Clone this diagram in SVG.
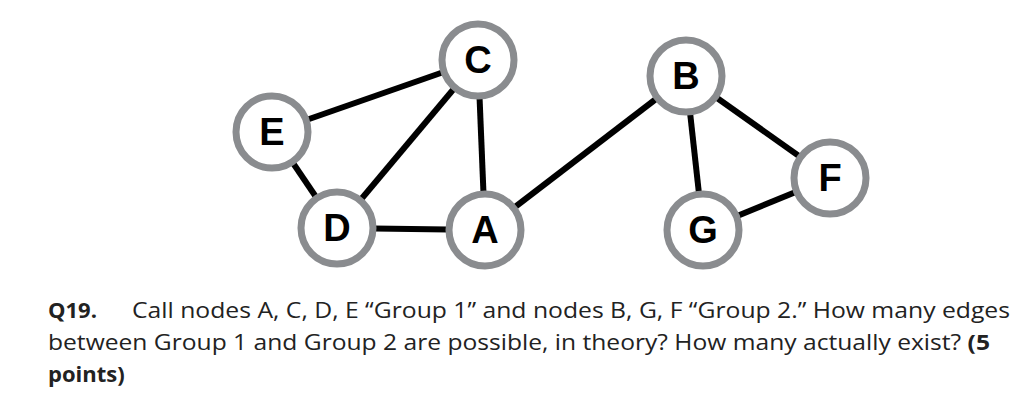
<svg xmlns="http://www.w3.org/2000/svg" width="1024" height="408" viewBox="0 0 1024 408">
<style>
.e{stroke:#000;stroke-width:6}
.n circle{fill:#fff;stroke:#8a8c8f;stroke-width:7}
.n text{font-family:"Liberation Sans",Arial,sans-serif;font-weight:bold;font-size:38px;text-anchor:middle}
.q{font-family:"Open Sans","Liberation Sans",sans-serif;font-size:22px;fill:#222}
</style>
<rect width="1024" height="408" fill="#fff"/>
<g id="edges">
<line class="e" x1="272" y1="132" x2="478" y2="60"/>
<line class="e" x1="272" y1="132" x2="337" y2="228"/>
<line class="e" x1="337" y1="228" x2="478" y2="60"/>
<line class="e" x1="478" y1="60" x2="485" y2="230"/>
<line class="e" x1="337" y1="228" x2="485" y2="230"/>
<line class="e" x1="485" y1="230" x2="686" y2="76"/>
<line class="e" x1="686" y1="76" x2="703" y2="230"/>
<line class="e" x1="686" y1="76" x2="830" y2="178"/>
<line class="e" x1="703" y1="230" x2="830" y2="178"/>
</g>
<g id="C" class="n"><circle cx="478" cy="60" r="36"/><text x="478" y="73">C</text></g>
<g id="E" class="n"><circle cx="272" cy="132" r="36"/><text x="272" y="145">E</text></g>
<g id="D" class="n"><circle cx="337" cy="228" r="36"/><text x="337" y="241">D</text></g>
<g id="A" class="n"><circle cx="485" cy="230" r="36"/><text x="485" y="243">A</text></g>
<g id="B" class="n"><circle cx="686" cy="76" r="36"/><text x="686" y="89">B</text></g>
<g id="G" class="n"><circle cx="703" cy="230" r="36"/><text x="703" y="243">G</text></g>
<g id="F" class="n"><circle cx="830" cy="178" r="36"/><text x="830" y="191">F</text></g>
<text class="q" x="48" y="318" font-weight="bold">Q19.</text>
<text class="q" x="132" y="318" textLength="878" lengthAdjust="spacingAndGlyphs">Call nodes A, C, D, E “Group 1” and nodes B, G, F “Group 2.” How many edges</text>
<text class="q" x="48" y="350" textLength="942" lengthAdjust="spacingAndGlyphs">between Group 1 and Group 2 are possible, in theory? How many actually exist? <tspan font-weight="bold">(5</tspan></text>
<text class="q" x="48" y="382" font-weight="bold">points)</text>
</svg>
